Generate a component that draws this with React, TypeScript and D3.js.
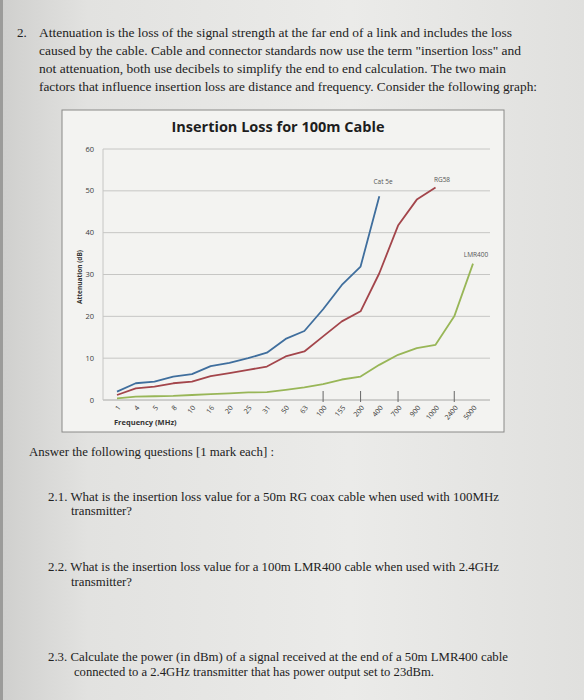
import React from 'react'
import * as d3 from 'd3'

// frequency categories (MHz) along the x axis
const frequencies = ['1', '4', '5', '8', '10', '16', '20', '25', '31', '50', '63', '100', '155', '200', '400', '700', '900', '1000', '2400', '5000']

// attenuation in dB for 100m
const cat5e = [2.0, 4.0, 4.4, 5.6, 6.2, 8.1, 8.9, 10.0, 11.3, 14.6, 16.5, 21.7, 27.5, 31.9, 48.7]
const rg58 = [1.2, 2.8, 3.2, 4.0, 4.4, 5.7, 6.4, 7.2, 8.0, 10.4, 11.6, 15.2, 18.8, 21.2, 30.3, 41.7, 47.9, 50.8]
const lmr400 = [0.4, 0.8, 0.9, 1.0, 1.2, 1.4, 1.6, 1.8, 1.9, 2.4, 3.0, 3.8, 4.9, 5.6, 8.4, 10.8, 12.4, 13.2, 20.0, 32.6]

const yTicks = [0, 10, 20, 30, 40, 50, 60]
const markedTicks = ['100', '200', '700', '2400']

const series = [
  { name: 'Cat 5e', values: cat5e, color: '#3f6e9d', labelAt: [383, 184] },
  { name: 'RG58', values: rg58, color: '#a3454b', labelAt: [442, 182] },
  { name: 'LMR400', values: lmr400, color: '#98b657', labelAt: [476, 257] },
]

const intro = [
  { text: 'Attenuation is the loss of the signal strength at the far end of a link and includes the loss', end: 512 },
  { text: 'caused by the cable.  Cable and connector standards now use the term "insertion loss" and', end: 521 },
  { text: 'not attenuation, both use decibels to simplify the end to end calculation.  The two main', end: 506 },
  { text: 'factors that influence insertion loss are distance and frequency. Consider the following graph:', end: 537 },
]

const questions = [
  { text: 'Answer the following questions [1 mark each] :', x: 29, end: 274, y: 456 },
  { text: '2.1. What is the insertion loss value for a 50m RG coax cable when used with 100MHz', x: 48, end: 499, y: 501 },
  { text: 'transmitter?', x: 71, end: 132, y: 515 },
  { text: '2.2. What is the insertion loss value for a 100m LMR400 cable when used with 2.4GHz', x: 48, end: 499, y: 571 },
  { text: 'transmitter?', x: 71, end: 132, y: 586 },
  { text: '2.3. Calculate the power (in dBm) of a signal received at the end of a 50m LMR400 cable', x: 48, end: 508, y: 661 },
  { text: 'connected to a 2.4GHz transmitter that has power output set to 23dBm.', x: 74, end: 434, y: 676 },
]

export default function App() {
  const x = d3.scalePoint<string>().domain(frequencies).range([117, 473])
  const y = d3.scaleLinear().domain([0, 60]).range([400, 149])

  const line = d3.line<number>()
    .x((_, i) => x(frequencies[i]) as number)
    .y(d => y(d))

  const serif = '"Liberation Serif", "Times New Roman", serif'
  const sans = '"Open Sans", "Liberation Sans", sans-serif'

  return (
    <svg width={584} height={700} style={{ position: 'absolute', left: 0, top: 0 }}>
      <defs>
        <linearGradient id="paper" x1="0" x2="1" y1="0" y2="0">
          <stop offset="0" stopColor="#cfcfcd" />
          <stop offset="0.15" stopColor="#e2e2e0" />
          <stop offset="0.6" stopColor="#ebebe9" />
          <stop offset="1" stopColor="#e0e0de" />
        </linearGradient>
      </defs>
      <rect width={584} height={700} fill="url(#paper)" />
      <rect x={0} y={0} width={3} height={700} fill="#9c9c9a" />

      {/* intro paragraph */}
      <g fontFamily={serif} fontSize={13} fill="#222">
        <text x={17} y={37}>2.</text>
        {intro.map((l, i) => (
          <text key={i} x={39} y={37 + i * 18} textLength={l.end - 39} lengthAdjust="spacingAndGlyphs">{l.text}</text>
        ))}
      </g>

      {/* chart frame */}
      <rect x={62} y={110} width={442} height={322} fill="#f3f3f1" stroke="#8a8a88" strokeWidth={1} />
      <text x={278} y={132} textAnchor="middle" fontFamily={sans} fontWeight="bold" fontSize={14.5} fill="#1e1e1e">
        Insertion Loss for 100m Cable
      </text>

      {/* gridlines */}
      {yTicks.map(t => (
        <g key={t}>
          <line x1={103} x2={490} y1={y(t)} y2={y(t)} stroke={t === 0 ? '#a8a8a6' : '#c6c6c4'} strokeWidth={1} />
          <text x={94} y={y(t) + 2.5} textAnchor="end" fontFamily={sans} fontSize={7.5} fill="#3a3a3a">{t}</text>
        </g>
      ))}
      <line x1={103} x2={103} y1={y(60)} y2={y(0)} stroke="#c6c6c4" />

      {markedTicks.map(f => (
        <line key={f} x1={x(f)} x2={x(f)} y1={y(0) - 9} y2={y(0) + 2} stroke="#666" strokeWidth={1} />
      ))}

      {/* x tick labels */}
      {frequencies.map(f => (
        <text key={f} transform={`translate(${(x(f) as number) + 4},${y(0) + 8}) rotate(-50)`}
          textAnchor="end" fontFamily={sans} fontSize={7} fill="#333">{f}</text>
      ))}

      <text x={114} y={425} fontFamily={sans} fontWeight="bold" fontSize={7.5} fill="#333">Frequency (MHz)</text>
      <text transform="translate(82,277) rotate(-90)" textAnchor="middle" fontFamily={sans} fontWeight="bold" fontSize={6.5} fill="#333">
        Attenuation (dB)
      </text>

      {/* series */}
      {series.map(s => (
        <g key={s.name}>
          <path d={line(s.values) ?? ''} fill="none" stroke={s.color} strokeWidth={1.8} strokeLinejoin="round" />
          <text x={s.labelAt[0]} y={s.labelAt[1]} textAnchor="middle" fontFamily={sans} fontSize={6.5} fill="#555">{s.name}</text>
        </g>
      ))}

      {/* questions */}
      <g fontFamily={serif} fontSize={12} fill="#222">
        {questions.map((q, i) => (
          <text key={i} x={q.x} y={q.y} textLength={q.end - q.x} lengthAdjust="spacingAndGlyphs">{q.text}</text>
        ))}
      </g>
    </svg>
  )
}
